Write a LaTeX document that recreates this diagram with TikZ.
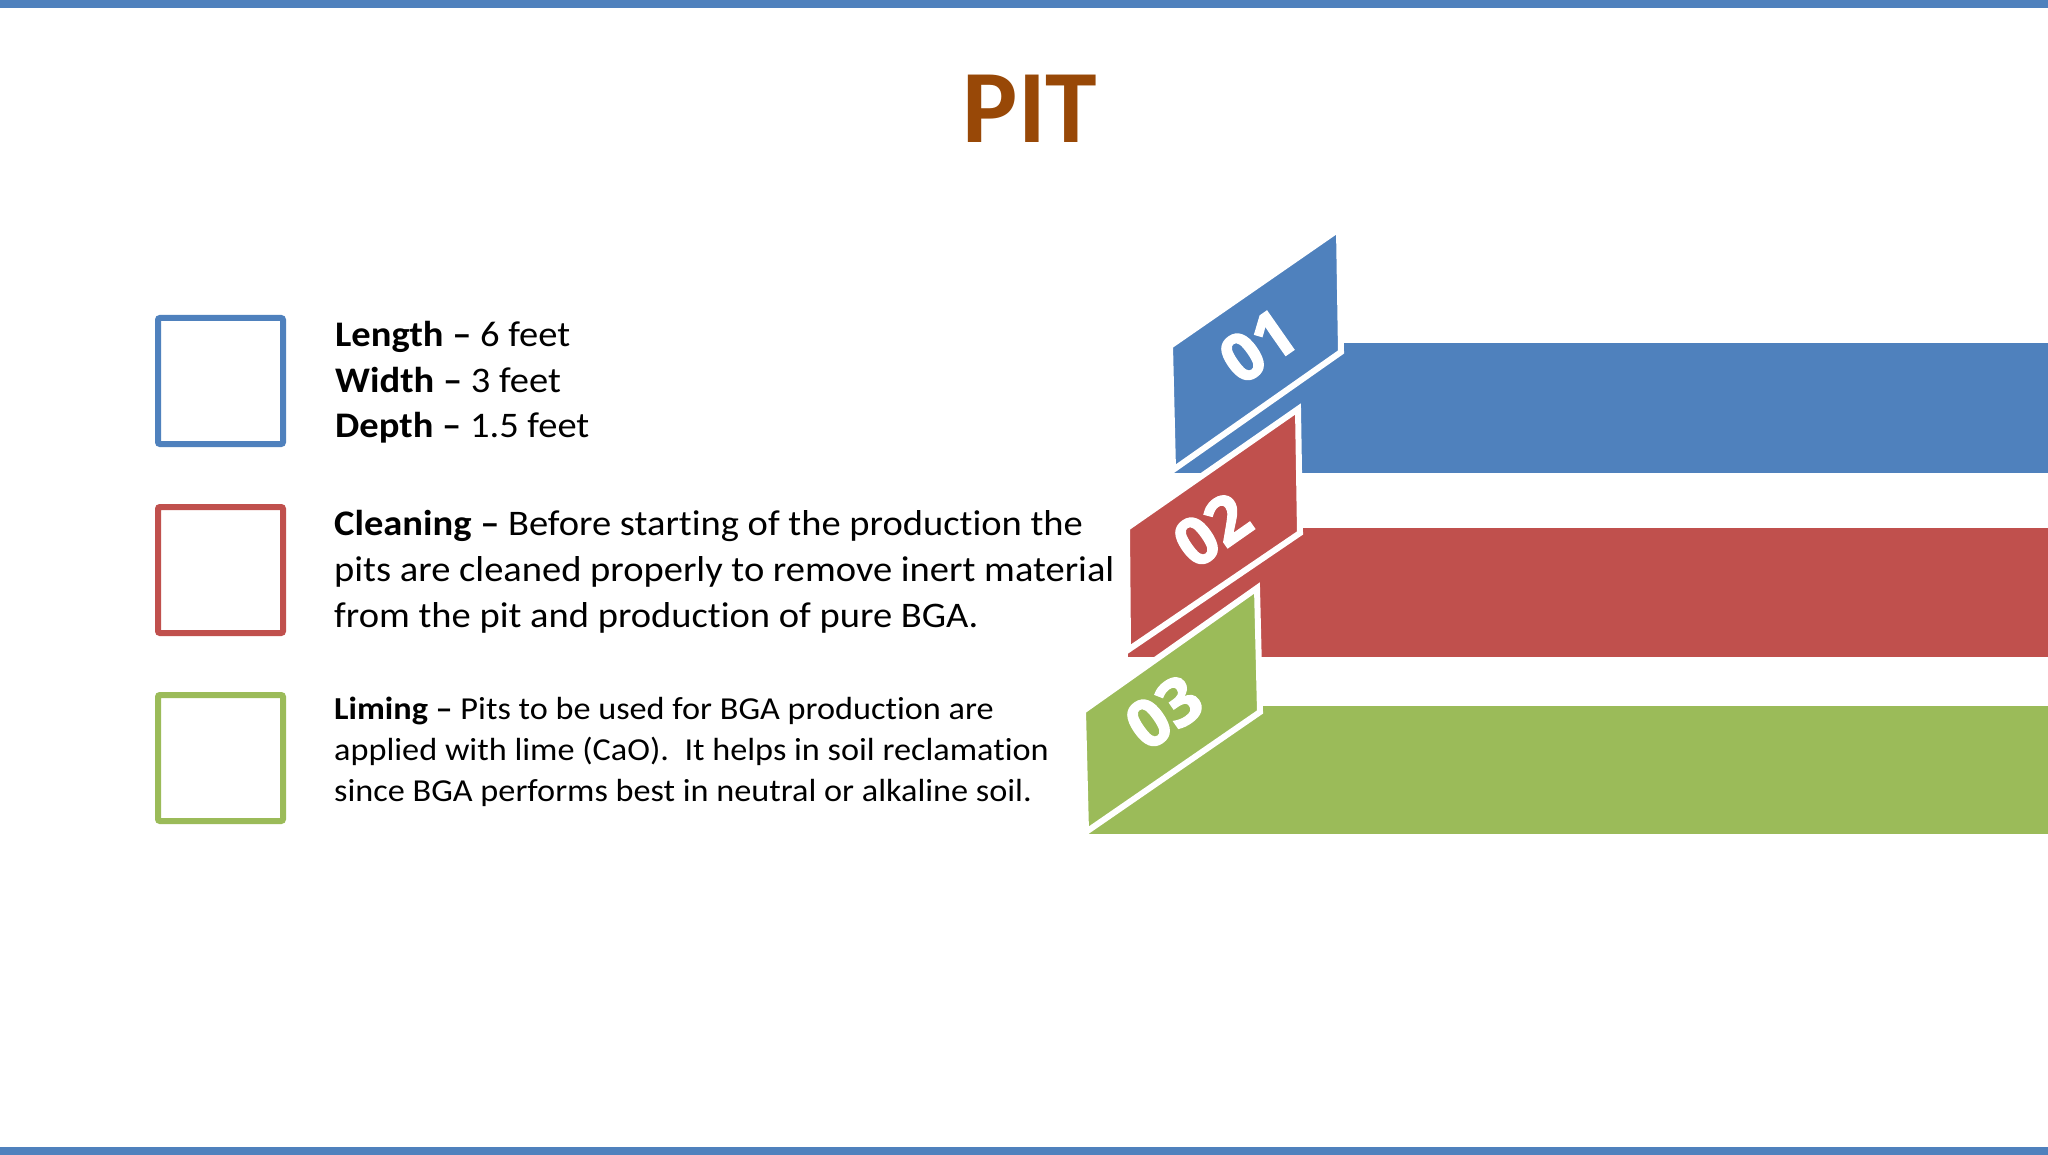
\documentclass[tikz,border=0pt]{standalone}
\usepackage{fontspec}
\setmainfont{Carlito}[FakeStretch=1.07, Ligatures=NoCommon]
\newfontfamily\titlefont{Carlito}
\newfontfamily\numfont{Open Sans}[FakeBold=2]
\definecolor{pblue}{RGB}{79,129,189}
\definecolor{pred}{RGB}{192,80,77}
\definecolor{pgreen}{RGB}{155,187,89}
\definecolor{pbrown}{RGB}{152,72,7}
\begin{document}
\begin{tikzpicture}[x=1pt,y=-1pt,
  bodytext/.style={anchor=base west, inner sep=0pt, font=\fontsize{36}{44}\selectfont},
  smalltext/.style={anchor=base west, inner sep=0pt, font=\fontsize{32}{40}\selectfont},
  keybox/.style={line width=6pt, rounded corners=2pt, fill=white},
  tabshape/.style={draw=white, line width=6pt, line join=miter},
  tabnum/.style={text=white, font=\numfont\bfseries\fontsize{66}{66}\selectfont, rotate=35, inner sep=0pt},
  bar/.style={fill=pblue}]
\useasboundingbox (0,0) rectangle (2048,1155);
\fill[white] (0,0) rectangle (2048,1155);
% top and bottom bars
\fill[bar] (0,0) rectangle (2048,8);
\fill[bar] (0,1147) rectangle (2048,1155);
% title
\node[anchor=base, inner sep=0pt, text=pbrown, font=\titlefont\bfseries\fontsize{104}{110}\selectfont] (title) at (1030,143) {PIT};
% key boxes
\draw[keybox, draw=pblue] (158,318) rectangle (283,444);
\draw[keybox, draw=pred] (158,507) rectangle (283,633);
\draw[keybox, draw=pgreen] (158,695) rectangle (283,821);
% blue text
\node[bodytext] (l1) at (335,347) {\textbf{Length –} 6 feet};
\node[bodytext] (l2) at (335,392) {\textbf{Width –} 3 feet};
\node[bodytext] (l3) at (335,437) {\textbf{Depth –} 1.5 feet};
% red text
\node[bodytext] (c1) at (334,535) {\textbf{Cleaning –} Before starting of the production the};
\node[bodytext] (c2) at (334,581) {pits are cleaned properly to remove inert material};
\node[bodytext] (c3) at (334,627) {from the pit and production of pure BGA.};
% green text
\node[smalltext] (g1) at (334,719) {\textbf{Liming –} Pits to be used for BGA production are};
\node[smalltext] (g2) at (334,760) {applied with lime (CaO).\ \ It helps in soil reclamation};
\node[smalltext] (g3) at (334,801) {since BGA performs best in neutral or alkaline soil.};
% ribbons
\fill[pblue] (1173,343) rectangle (2048,473);
\filldraw[tabshape, fill=pblue] (1170,346) -- (1339,229) -- (1341,352) -- (1173,470) -- cycle;
\node[tabnum] (n1) at (1258,346) {01};
\fill[pred] (1128,528) rectangle (2048,657);
\filldraw[tabshape, fill=pred] (1127,528) -- (1298,409) -- (1300,533) -- (1128,650) -- cycle;
\node[tabnum] (n2) at (1212,530) {02};
\fill[pgreen] (1086,706) rectangle (2048,834);
\filldraw[tabshape, fill=pgreen] (1083,711) -- (1257,588) -- (1260,712) -- (1086,832) -- cycle;
\node[tabnum] (n3) at (1164,712) {03};
\end{tikzpicture}
\end{document}
